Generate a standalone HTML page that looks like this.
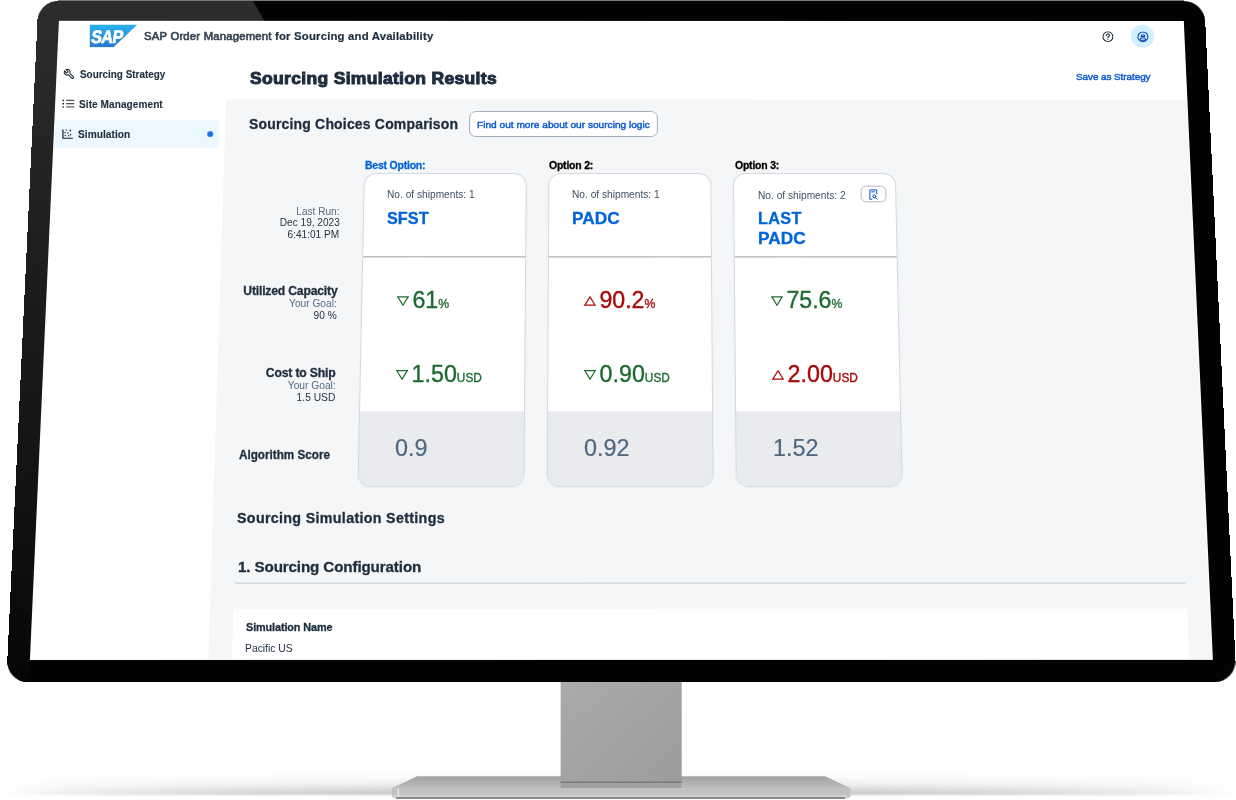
<!DOCTYPE html>
<html><head><meta charset="utf-8"><title>SAP Order Management - Sourcing Simulation</title>
<style>
html,body{margin:0;padding:0;background:#fff;}
body{width:1236px;height:800px;overflow:hidden;position:relative;font-family:"Liberation Sans",Arial,sans-serif;}
.t{position:absolute;line-height:1;white-space:nowrap;}
.b{-webkit-text-stroke:0.3px currentColor;}
#mon{position:absolute;left:0;top:0;width:1154px;height:639px;transform-origin:0 0;transform:matrix3d(0.97525716,0.00018172,0,0.0000004002,-0.04768201,0.94957480,0,-0.0000768760,0,0,1,0,58.900000,20.800000,0,1);}
#bezel{position:absolute;left:-22px;top:-21px;width:1197.5px;height:680.7px;border-radius:21px;background:#030303;}
#refl{position:absolute;left:-22px;top:-21px;width:1197.5px;height:680.7px;border-radius:21px;
 background:linear-gradient(180deg,#2d2d2d 0%,#282828 14%,#1d1d1d 40%,#121212 74%,#080808 96%,#050505 100%);
 clip-path:polygon(0 0,220.4px 0,232.8px 21px,22px 21px,22px 700px,0 700px);}
#screen{position:absolute;left:0;top:0;width:1154px;height:639px;overflow:hidden;background:#fff;}
</style></head>
<body>
<div style="position:absolute;left:0;top:772px;width:1236px;height:25px;background:linear-gradient(180deg,rgba(0,0,0,0) 0%,rgba(0,0,0,0.015) 20%,rgba(0,0,0,0.07) 50%,rgba(0,0,0,0.18) 78%,rgba(0,0,0,0.20) 86%,rgba(0,0,0,0.04) 96%,rgba(0,0,0,0) 100%);-webkit-mask-image:linear-gradient(90deg,transparent 0%,rgba(0,0,0,.35) 6%,rgba(0,0,0,.8) 20%,#000 32%,#000 68%,rgba(0,0,0,.8) 80%,rgba(0,0,0,.35) 94%,transparent 100%);"></div>
<div style="position:absolute;left:58px;top:0;width:1126px;height:1px;background:#7a7a7a;"></div>
<svg style="position:absolute;left:0;top:670px" width="1236" height="130" viewBox="0 670 1236 130">
<defs>
<linearGradient id="neck" x1="0" y1="0" x2="1" y2="1"><stop offset="0" stop-color="#ababab"/><stop offset="1" stop-color="#9c9c9c"/></linearGradient>
<linearGradient id="btop" x1="0" y1="0" x2="0" y2="1"><stop offset="0" stop-color="#a2a2a2"/><stop offset="1" stop-color="#bcbcbc"/></linearGradient>
<linearGradient id="bfront" x1="0" y1="0" x2="0" y2="1"><stop offset="0" stop-color="#bdbdbd"/><stop offset="0.8" stop-color="#c4c4c4"/><stop offset="1" stop-color="#c8c8c8"/></linearGradient>
</defs>
<path d="M417 776.3H825.2L850.5 788.2H391.8Z" fill="url(#btop)"/>
<path d="M391.8 788.2H850.5V795.5Q850.5 798.3 846 798.3H396Q391.8 798.3 391.8 795Z" fill="url(#bfront)"/>
<rect x="394" y="795.6" width="453" height="1.1" fill="#dcdcdc"/>
<rect x="396" y="797.4" width="449" height="1.3" fill="#606060"/>
<rect x="397.6" y="788.4" width="1.2" height="7.5" fill="#ececec"/>
<rect x="560.6" y="782" width="121.1" height="6" fill="#a0a0a0"/>
<rect x="560.6" y="676" width="121.1" height="106.6" fill="url(#neck)"/>
<rect x="560.6" y="781.6" width="121.1" height="1.2" fill="#727272"/>
</svg>
<div id="mon">
<div id="bezel"></div>
<div id="refl"></div>
<div id="screen">
<div style="position:absolute;left:173.5px;top:81.7px;width:979.6px;height:556.4px;background:#f5f6f7;"></div>
<div style="position:absolute;left:1099.4px;top:4.4px;width:23.6px;height:23.2px;border-radius:50%;background:#d1efff;"></div>
<div style="position:absolute;left:1.1px;top:103.3px;width:166.9px;height:28.8px;background:#ebf8ff;border-radius:5px;"></div>
<div style="position:absolute;left:155.6px;top:114.5px;width:6.0px;height:6.0px;background:#1a6ee6;border-radius:50%;"></div>
<div style="position:absolute;left:422.0px;top:94.4px;width:191.5px;height:26.3px;box-sizing:border-box;border:1px solid #9eabb9;border-radius:7px;background:#fff;"></div>
<div style="position:absolute;left:316.6px;top:159.0px;width:163.0px;height:312.3px;background:#fff;border-radius:12px;box-shadow:0 0 0 1px #d3d9df,0 1px 3px rgba(30,45,62,0.10);overflow:hidden;"></div>
<div style="position:absolute;left:316.6px;top:397.5px;width:163.0px;height:73.80000000000001px;background:#e9ebee;border-radius:0 0 12px 12px;"></div>
<div style="position:absolute;left:316.6px;top:243.0px;width:163.0px;height:1.2px;background:#9d9d9d;"></div>
<div style="position:absolute;left:503.6px;top:159.0px;width:163.0px;height:312.3px;background:#fff;border-radius:12px;box-shadow:0 0 0 1px #d3d9df,0 1px 3px rgba(30,45,62,0.10);overflow:hidden;"></div>
<div style="position:absolute;left:503.6px;top:397.5px;width:163.0px;height:73.80000000000001px;background:#e9ebee;border-radius:0 0 12px 12px;"></div>
<div style="position:absolute;left:503.6px;top:243.0px;width:163.0px;height:1.2px;background:#9d9d9d;"></div>
<div style="position:absolute;left:691.4px;top:159.0px;width:163.0px;height:312.3px;background:#fff;border-radius:12px;box-shadow:0 0 0 1px #d3d9df,0 1px 3px rgba(30,45,62,0.10);overflow:hidden;"></div>
<div style="position:absolute;left:691.4px;top:397.5px;width:163.0px;height:73.80000000000001px;background:#e9ebee;border-radius:0 0 12px 12px;"></div>
<div style="position:absolute;left:691.4px;top:243.0px;width:163.0px;height:1.2px;background:#9d9d9d;"></div>
<div style="position:absolute;left:819.0px;top:171.0px;width:26.2px;height:17.0px;box-sizing:border-box;border:1px solid #aab4bf;border-radius:5.5px;background:#fff;"></div>
<div style="position:absolute;left:197.5px;top:565.3px;width:933px;height:1.2px;background:#c2ccd6;"></div>
<div style="position:absolute;left:197.2px;top:590.4px;width:933.7px;height:60px;background:#fff;"></div>
</div>
</div>
<div id="ov" style="position:absolute;left:0;top:0;width:1236px;height:800px;overflow:hidden;">
<svg style="position:absolute;left:89.07px;top:24.14px;transform:scale(0.9764,0.9535);transform-origin:50% 50%" width="49.0" height="23.9" viewBox="0 0 92 45" preserveAspectRatio="none"><defs><linearGradient id="lg" x1="0" y1="0" x2="0" y2="1"><stop offset="0" stop-color="#27b2f0"/><stop offset="1" stop-color="#2a78c8"/></linearGradient></defs>
<polygon points="0,0 92,0 46,45 0,45" fill="url(#lg)"/>
<text transform="translate(1.6,36.2) skewX(-8) scale(0.86,1)" font-family="Liberation Sans, sans-serif" font-weight="700" font-size="36" fill="#fff" stroke="#fff" stroke-width="1.3" letter-spacing="-1">SAP</text></svg>
<div class="t" style="left:143.59px;top:30.05px;font-size:11.6px;font-weight:400;color:#354353;letter-spacing:0.2px;transform:scale(0.9767,0.9541);transform-origin:0 9.82px;"><span style="-webkit-text-stroke:0.65px #354353">SAP Order Management</span> <b style="font-weight:700;color:#1d2d3e;-webkit-text-stroke:0.2px #1d2d3e">for Sourcing and Availability</b></div>
<svg style="position:absolute;left:1102.02px;top:30.80px;transform:scale(0.9756,0.9532);transform-origin:50% 50%" width="11.8" height="11.4" viewBox="0 0 24 24"><circle cx="12" cy="12" r="10.7" fill="none" stroke="#131e29" stroke-width="2.2"/>
<path d="M8.9 9.2a3.2 3.2 0 1 1 4.4 3c-.8.4-1.3 1-1.3 1.9v.9" fill="none" stroke="#131e29" stroke-width="2.2" stroke-linecap="round"/>
<rect x="10.6" y="17.3" width="2.8" height="1.7" rx=".8" fill="#131e29"/></svg>
<svg style="position:absolute;left:1136.85px;top:30.61px;transform:scale(0.9756,0.9531);transform-origin:50% 50%" width="11.8" height="11.6" viewBox="0 0 24 24" fill="none" stroke="#0040b8" stroke-width="2.3"><circle cx="12" cy="12" r="10.6"/>
<path d="M8.2 11.3a3.8 3.8 0 0 1 7.6 0z"/>
<rect x="6.8" y="14.7" width="10.4" height="4.8" rx="2.3"/></svg>
<svg style="position:absolute;left:63.31px;top:68.01px;transform:scale(0.9794,0.9594);transform-origin:50% 50%" width="12.2" height="12" viewBox="0 0 24 24" fill="none" stroke="#131e29" stroke-width="2.1" stroke-linejoin="round"><g transform="translate(24,0) scale(-1,1)"><path d="M14.7 6.3a1 1 0 0 0 0 1.4l1.6 1.6a1 1 0 0 0 1.4 0l3.77-3.77a6 6 0 0 1-7.94 7.94l-6.91 6.91a2.12 2.12 0 0 1-3-3l6.91-6.91a6 6 0 0 1 7.94-7.94l-3.76 3.76z"/></g></svg>
<svg style="position:absolute;left:61.99px;top:98.93px;transform:scale(0.9818,0.9639);transform-origin:50% 50%" width="13.6" height="9.4" viewBox="0 0 13.6 9.4"><g fill="#131e29"><circle cx="1.1" cy="1.2" r="0.95"/><circle cx="1.1" cy="4.7" r="0.95"/><circle cx="1.1" cy="8.2" r="0.95"/></g>
<g stroke="#131e29" stroke-width="1.05"><path d="M4.1 1.2H12.4M4.1 4.7H12.4M4.1 8.2H12.4"/></g></svg>
<svg style="position:absolute;left:62.04px;top:128.67px;transform:scale(0.9841,0.9686);transform-origin:50% 50%" width="11.4" height="10.4" viewBox="0 0 11.4 10.4"><path d="M0.8 0.2V9.6H11" fill="none" stroke="#131e29" stroke-width="1.3"/>
<g fill="#131e29"><circle cx="4.2" cy="0.9" r="0.75"/><circle cx="8.4" cy="1.3" r="0.9"/><circle cx="2.9" cy="3.6" r="0.7"/><circle cx="5.8" cy="4.0" r="0.7"/><circle cx="8.6" cy="5.8" r="0.8"/><circle cx="3.2" cy="6.6" r="0.7"/><circle cx="6.6" cy="6.8" r="0.7"/></g></svg>
<div class="t b" style="left:80.39px;top:69.27px;font-size:10.7px;font-weight:700;color:#1d2d3e;transform:scale(0.9259,0.9600);transform-origin:0 9.06px;-webkit-text-stroke:0.12px #1d2d3e;">Sourcing Strategy</div>
<div class="t b" style="left:79.40px;top:98.82px;font-size:10.7px;font-weight:700;color:#1d2d3e;letter-spacing:0.05px;transform:scale(0.9448,0.9646);transform-origin:0 9.06px;-webkit-text-stroke:0.12px #1d2d3e;">Site Management</div>
<div class="t b" style="left:77.82px;top:128.50px;font-size:10.7px;font-weight:700;color:#1d2d3e;letter-spacing:0.05px;transform:scale(0.9470,0.9692);transform-origin:0 9.06px;-webkit-text-stroke:0.12px #1d2d3e;">Simulation</div>
<div class="t b" style="left:249.71px;top:70.24px;font-size:16.4px;font-weight:700;color:#1d2d3e;letter-spacing:0.3px;transform:scale(1.0683,0.9609);transform-origin:0 13.88px;-webkit-text-stroke:1.0px #1d2d3e;">Sourcing Simulation Results</div>
<div class="t" style="left:1075.58px;top:71.85px;font-size:10.1px;font-weight:400;color:#0a56d2;letter-spacing:-0.05px;transform:scale(0.9791,0.9599);transform-origin:0 8.55px;-webkit-text-stroke:0.45px #0a56d2;">Save as Strategy</div>
<div class="t b" style="left:248.56px;top:117.04px;font-size:14.2px;font-weight:700;color:#1d2d3e;letter-spacing:0.2px;transform:scale(0.9836,0.9678);transform-origin:0 12.02px;">Sourcing Choices Comparison</div>
<div class="t" style="left:476.55px;top:119.50px;font-size:10.3px;font-weight:400;color:#0a56d2;transform:scale(0.9834,0.9676);transform-origin:0 8.72px;-webkit-text-stroke:0.45px #0a56d2;">Find out more about our sourcing logic</div>
<div class="t" style="right:896.42px;text-align:right;top:206.80px;font-size:10.4px;font-weight:400;color:#556b82;transform:scale(0.9705,0.9812);transform-origin:100% 8.80px;">Last Run:</div>
<div class="t" style="right:896.68px;text-align:right;top:218.49px;font-size:10.4px;font-weight:400;color:#1d2d3e;transform:scale(0.9714,0.9831);transform-origin:100% 8.80px;">Dec 19, 2023</div>
<div class="t" style="right:896.94px;text-align:right;top:230.10px;font-size:10.4px;font-weight:400;color:#1d2d3e;transform:scale(0.9723,0.9849);transform-origin:100% 8.80px;">6:41:01 PM</div>
<div class="t b" style="right:898.21px;text-align:right;top:285.46px;font-size:12.2px;font-weight:700;color:#1d2d3e;letter-spacing:-0.18px;transform:scale(0.9967,0.9938);transform-origin:100% 10.33px;">Utilized Capacity</div>
<div class="t" style="right:899.28px;text-align:right;top:298.92px;font-size:10.4px;font-weight:400;color:#556b82;transform:scale(0.9777,0.9957);transform-origin:100% 8.80px;">Your Goal:</div>
<div class="t" style="right:899.54px;text-align:right;top:310.68px;font-size:10.4px;font-weight:400;color:#1d2d3e;transform:scale(0.9786,0.9975);transform-origin:100% 8.80px;">90 %</div>
<div class="t b" style="right:900.03px;text-align:right;top:366.68px;font-size:12.2px;font-weight:700;color:#1d2d3e;letter-spacing:-0.18px;transform:scale(1.0031,1.0066);transform-origin:100% 10.33px;">Cost to Ship</div>
<div class="t" style="right:900.31px;text-align:right;top:380.80px;font-size:10.4px;font-weight:400;color:#556b82;transform:scale(0.9840,1.0086);transform-origin:100% 8.80px;">Your Goal:</div>
<div class="t" style="right:900.58px;text-align:right;top:392.81px;font-size:10.4px;font-weight:400;color:#1d2d3e;transform:scale(0.9849,1.0105);transform-origin:100% 8.80px;">1.5 USD</div>
<div class="t b" style="left:238.54px;top:448.64px;font-size:12.2px;font-weight:700;color:#1d2d3e;transform:scale(0.9591,1.0197);transform-origin:0 10.33px;">Algorithm Score</div>
<div class="t b" style="left:364.89px;top:160.29px;font-size:10.6px;font-weight:700;color:#0064d9;letter-spacing:-0.2px;transform:scale(0.9867,0.9740);transform-origin:0 8.97px;">Best Option:</div>
<div class="t" style="left:387.35px;top:188.69px;font-size:10.5px;font-weight:400;color:#3d4f63;transform:scale(0.9691,0.9784);transform-origin:0 8.89px;">No. of shipments: 1</div>
<div class="t b" style="left:386.84px;top:208.89px;font-size:16.6px;font-weight:700;color:#0064d9;line-height:20.4px;transform:scale(0.9811,0.9827);transform-origin:0 15.95px;">SFST</div>
<div class="t" style="left:397.26px;top:288.89px;font-size:23.2px;font-weight:400;color:#1e6b31;transform:scale(0.9976,0.9958);transform-origin:0 19.64px;-webkit-text-stroke:0.35px #1e6b31;"><svg width="12" height="10" viewBox="0 0 12 10" style="margin-right:3.5px;vertical-align:1.7px"><path d="M0.8 0.8H11.2L6 9.2Z" fill="none" stroke="#1e6b31" stroke-width="1.2"/></svg>61<span style="font-size:12.3px">%</span></div>
<div class="t" style="left:395.96px;top:363.11px;font-size:23.2px;font-weight:400;color:#1e6b31;transform:scale(1.0035,1.0075);transform-origin:0 19.64px;-webkit-text-stroke:0.35px #1e6b31;"><svg width="12" height="10" viewBox="0 0 12 10" style="margin-right:3.5px;vertical-align:1.7px"><path d="M0.8 0.8H11.2L6 9.2Z" fill="none" stroke="#1e6b31" stroke-width="1.2"/></svg>1.50<span style="font-size:11.8px">USD</span></div>
<div class="t" style="left:394.86px;top:436.98px;font-size:23.2px;font-weight:400;color:#4f6781;transform:scale(1.0093,1.0192);transform-origin:0 19.64px;-webkit-text-stroke:0.2px #4f6781;">0.9</div>
<div class="t b" style="left:549.38px;top:160.32px;font-size:10.6px;font-weight:700;color:#000;letter-spacing:-0.2px;transform:scale(0.9865,0.9739);transform-origin:0 8.97px;">Option 2:</div>
<div class="t" style="left:572.26px;top:188.71px;font-size:10.5px;font-weight:400;color:#3d4f63;transform:scale(0.9690,0.9783);transform-origin:0 8.89px;">No. of shipments: 1</div>
<div class="t b" style="left:572.15px;top:208.90px;font-size:16.6px;font-weight:700;color:#0064d9;line-height:20.4px;transform:scale(0.9810,0.9826);transform-origin:0 15.95px;"><span style="display:inline-block;transform:scaleX(1.06);transform-origin:0 0">PADC</span></div>
<div class="t" style="left:583.80px;top:288.90px;font-size:23.2px;font-weight:400;color:#aa0808;transform:scale(0.9975,0.9957);transform-origin:0 19.64px;-webkit-text-stroke:0.35px #aa0808;"><svg width="12" height="10" viewBox="0 0 12 10" style="margin-right:3.5px;vertical-align:1.7px"><path d="M0.8 9.2H11.2L6 0.8Z" fill="none" stroke="#aa0808" stroke-width="1.2"/></svg>90.2<span style="font-size:12.3px">%</span></div>
<div class="t" style="left:583.59px;top:363.11px;font-size:23.2px;font-weight:400;color:#1e6b31;transform:scale(1.0033,1.0074);transform-origin:0 19.64px;-webkit-text-stroke:0.35px #1e6b31;"><svg width="12" height="10" viewBox="0 0 12 10" style="margin-right:3.5px;vertical-align:1.7px"><path d="M0.8 0.8H11.2L6 9.2Z" fill="none" stroke="#1e6b31" stroke-width="1.2"/></svg>0.90<span style="font-size:11.8px">USD</span></div>
<div class="t" style="left:583.58px;top:436.98px;font-size:23.2px;font-weight:400;color:#4f6781;transform:scale(1.0091,1.0191);transform-origin:0 19.64px;-webkit-text-stroke:0.2px #4f6781;">0.92</div>
<div class="t b" style="left:734.64px;top:160.34px;font-size:10.6px;font-weight:700;color:#000;letter-spacing:-0.2px;transform:scale(0.9864,0.9739);transform-origin:0 8.97px;">Option 3:</div>
<div class="t" style="left:757.94px;top:189.61px;font-size:10.5px;font-weight:400;color:#3d4f63;transform:scale(0.9689,0.9784);transform-origin:0 8.89px;">No. of shipments: 2</div>
<div class="t b" style="left:758.23px;top:208.92px;font-size:16.6px;font-weight:700;color:#0064d9;line-height:20.4px;transform:scale(0.9808,0.9825);transform-origin:0 15.95px;"><span style="letter-spacing:0.3px">LAST</span><br><span style="display:inline-block;transform:scaleX(1.06);transform-origin:0 0">PADC</span></div>
<div class="t" style="left:771.12px;top:288.91px;font-size:23.2px;font-weight:400;color:#1e6b31;transform:scale(0.9973,0.9956);transform-origin:0 19.64px;-webkit-text-stroke:0.35px #1e6b31;"><svg width="12" height="10" viewBox="0 0 12 10" style="margin-right:3.5px;vertical-align:1.7px"><path d="M0.8 0.8H11.2L6 9.2Z" fill="none" stroke="#1e6b31" stroke-width="1.2"/></svg>75.6<span style="font-size:12.3px">%</span></div>
<div class="t" style="left:772.00px;top:363.12px;font-size:23.2px;font-weight:400;color:#aa0808;transform:scale(1.0032,1.0073);transform-origin:0 19.64px;-webkit-text-stroke:0.35px #aa0808;"><svg width="12" height="10" viewBox="0 0 12 10" style="margin-right:3.5px;vertical-align:1.7px"><path d="M0.8 9.2H11.2L6 0.8Z" fill="none" stroke="#aa0808" stroke-width="1.2"/></svg>2.00<span style="font-size:11.8px">USD</span></div>
<div class="t" style="left:773.08px;top:436.98px;font-size:23.2px;font-weight:400;color:#4f6781;transform:scale(1.0090,1.0191);transform-origin:0 19.64px;-webkit-text-stroke:0.2px #4f6781;">1.52</div>
<svg style="position:absolute;left:868.82px;top:188.71px;transform:scale(0.9882,0.9777);transform-origin:50% 50%" width="9.6" height="11.2" viewBox="0 0 19.2 22.4" fill="none" stroke="#0a4fd0" stroke-width="2" stroke-linecap="round"><path d="M5.5 20.8H1.6V1.6H15.6V9.8"/><path d="M5.2 5.6H11"/><circle cx="10.5" cy="14.8" r="3"/><path d="M12.8 17.1L16.2 20.6"/></svg>
<div class="t b" style="left:236.63px;top:510.97px;font-size:14.1px;font-weight:700;color:#1d2d3e;letter-spacing:0.3px;transform:scale(1.0147,1.0299);transform-origin:0 11.94px;">Sourcing Simulation Settings</div>
<div class="t b" style="left:237.90px;top:559.92px;font-size:14.9px;font-weight:700;color:#1d2d3e;letter-spacing:-0.12px;transform:scale(1.0186,1.0378);transform-origin:0 12.61px;">1. Sourcing Configuration</div>
<div class="t b" style="left:246.10px;top:621.83px;font-size:10.6px;font-weight:700;color:#1d2d3e;letter-spacing:-0.1px;transform:scale(1.0231,1.0472);transform-origin:0 8.97px;">Simulation Name</div>
<div class="t" style="left:245.48px;top:643.71px;font-size:10.4px;font-weight:400;color:#1d2d3e;transform:scale(0.9941,1.0507);transform-origin:0 8.80px;">Pacific US</div>
</div>
</body></html>
